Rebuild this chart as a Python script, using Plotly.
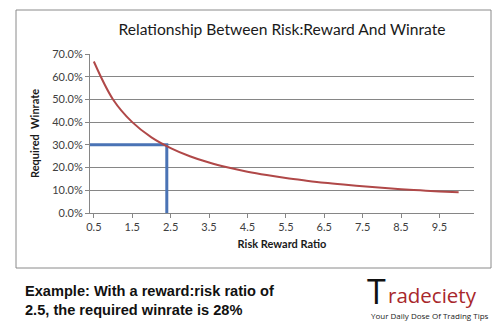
import plotly.graph_objects as go

# Data
ratios = [0.5, 1.0, 1.5, 2.0, 2.5, 3.0, 3.5, 4.0, 4.5, 5.0,
          5.5, 6.0, 6.5, 7.0, 7.5, 8.0, 8.5, 9.0, 9.5, 10.0]
winrate = [0.667, 0.500, 0.400, 0.333, 0.286, 0.250, 0.222, 0.200, 0.182, 0.167,
           0.154, 0.143, 0.133, 0.125, 0.118, 0.111, 0.105, 0.100, 0.095, 0.091]
x_ticks = [0.5, 1.5, 2.5, 3.5, 4.5, 5.5, 6.5, 7.5, 8.5, 9.5]
x_tick_labels = ["0.5", "1.5", "2.5", "3.5", "4.5", "5.5", "6.5", "7.5", "8.5", "9.5"]
y_ticks = [0.0, 0.1, 0.2, 0.3, 0.4, 0.5, 0.6, 0.7]
example_ratio = 2.4
example_winrate = 0.30

X0, X1 = 0.4, 10.4

fig = go.Figure()
fig.add_trace(go.Scatter(
    x=[X0, example_ratio, example_ratio], y=[example_winrate, example_winrate, 0],
    mode="lines", line=dict(color="#4a73b5", width=3), hoverinfo="skip", showlegend=False))
fig.add_trace(go.Scatter(
    x=ratios, y=winrate, mode="lines",
    line=dict(color="#b04848", width=2, shape="spline"), showlegend=False))

tick_font = dict(family="Lato, Carlito, sans-serif", size=11, color="#404040")
fig.update_xaxes(
    range=[X0, X1], tickvals=x_ticks, ticktext=x_tick_labels,
    showgrid=False, zeroline=False, showline=True, linecolor="#868686", linewidth=1,
    ticks="outside", ticklen=4, tickcolor="#868686", tickfont=tick_font,
    title=dict(text="<b>Risk Reward Ratio</b>", standoff=8,
               font=dict(family="Lato, sans-serif", size=11, color="#1a1a1a")))
fig.update_yaxes(
    range=[0, 0.7], tickvals=y_ticks, tickformat=".1%",
    showgrid=True, gridcolor="#868686", gridwidth=1, zeroline=False,
    showline=True, linecolor="#868686", linewidth=1,
    ticks="outside", ticklen=4, tickcolor="#868686", tickfont=tick_font,
    title=dict(text="<b>Required  Winrate</b>", standoff=10,
               font=dict(family="Lato, sans-serif", size=11, color="#1a1a1a")))

fig.update_layout(
    width=504, height=330,
    margin=dict(l=90, r=30, t=54, b=117),
    paper_bgcolor="white", plot_bgcolor="white",
    title=dict(text="Relationship Between Risk:Reward And Winrate",
               x=0.5, xref="paper", y=1 - 30 / 330, yanchor="middle",
               font=dict(family="Lato, sans-serif", size=15.6, color="#1a1a1a")),
    shapes=[dict(type="rect", xref="paper", yref="paper",
                 x0=(16 - 90) / 384, x1=(491 - 90) / 384,
                 y0=(213 - 268) / 159, y1=(213 - 10) / 159,
                 line=dict(color="#8a8a8a", width=1), layer="below")],
)

# Bottom caption
fig.add_annotation(
    text="<b>Example: With a reward:risk ratio of<br>2.5, the required winrate is 28%</b>",
    xref="paper", yref="paper", x=(23 - 90) / 384, y=(213 - 300) / 159,
    xanchor="left", yanchor="middle", align="left", showarrow=False,
    font=dict(family="Liberation Sans, Arial, sans-serif", size=14.6, color="#111111"))

# Logo text
fig.add_annotation(
    text="T", xref="paper", yref="paper",
    x=(365 - 90) / 384, y=(213 - 291) / 159, xanchor="left", yanchor="middle",
    showarrow=False, font=dict(family="Open Sans, sans-serif", size=34, color="#111111"))
fig.add_annotation(
    text="radeciety", xref="paper", yref="paper",
    x=(386 - 90) / 384, y=(213 - 295) / 159, xanchor="left", yanchor="middle",
    showarrow=False, font=dict(family="Open Sans, sans-serif", size=20.5, color="#a8272b"))
fig.add_annotation(
    text="Your Daily Dose Of Trading Tips", xref="paper", yref="paper",
    x=(430 - 90) / 384, y=(213 - 315) / 159, xanchor="center", yanchor="middle",
    showarrow=False, font=dict(family="Open Sans, sans-serif", size=8, color="#222222"))

fig.write_html("out.html")
